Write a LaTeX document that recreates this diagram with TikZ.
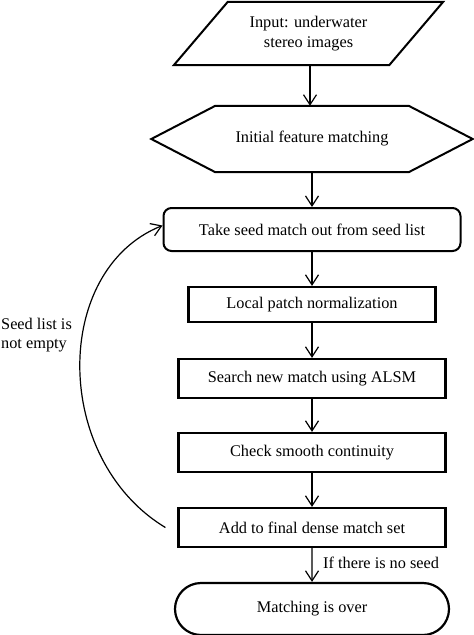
\documentclass[tikz,border=0pt]{standalone}
\usepackage{fontspec}
\setmainfont{Liberation Serif}
\usetikzlibrary{arrows.meta, shapes.misc}

\begin{document}
\begin{tikzpicture}[x=1bp, y=-1bp,
		font=\fontsize{16.3bp}{19.5bp}\selectfont,
		box/.style={rectangle, draw=black, line width=2.2bp, inner sep=0pt, fill=white},
		outline/.style={line width=2bp, line join=miter},
		arr/.style={-{Straight Barb[length=10bp, width=13bp]}, line width=1.2bp}]
		\useasboundingbox (0,0) rectangle (474,635);
		%-------------------------------------------------------------------------------
		% dense matching flow
		%-------------------------------------------------------------------------------
		% core nodes
		\node[rectangle, inner sep=0pt, minimum height=63bp, minimum width=269bp, align=center] (input) 
			at (308.5,33.5) {Input: underwater\\stereo images};
		\draw[outline] (input.south west) -- ([xshift=54bp]input.north west) 
			-- (input.north east) -- ([xshift=-54bp]input.south east) -- cycle;
		\node[rectangle, inner sep=0pt, minimum height=66bp, minimum width=321bp] (init) 
			at (312,139) {Initial feature matching};
		\draw[outline] (init.west) -- ([xshift=64bp]init.north west) 
			-- ([xshift=-64bp]init.north east) -- (init.east) 
			-- ([xshift=-64bp]init.south east) -- ([xshift=64bp]init.south west) -- cycle;
		\node[box, rounded corners=8bp, line width=2bp, minimum width=297bp, minimum height=43bp] (take) 
			at (312,229.5) {Take seed match out from seed list};
		\node[box, minimum width=247bp, minimum height=35bp] (norm) 
			at (312,304.5) {Local patch normalization};
		\node[box, minimum width=267bp, minimum height=39bp] (alsm) 
			at (312,378.5) {Search new match using ALSM};
		\node[box, minimum width=267bp, minimum height=39bp] (smooth) 
			at (312,452.5) {Check smooth continuity};
		\node[box, minimum width=267bp, minimum height=39bp] (add) 
			at (312,527.5) {Add to final dense match set};
		\node[rounded rectangle, draw=black, line width=2.2bp, inner sep=0pt, minimum width=274bp, 
			minimum height=52bp] (over) 
			at (312,609) {Matching is over};
		% forward
		\draw[arr] ([xshift=1.5bp]input.south) -- ([xshift=1.5bp]input.south |- init.north);
		\draw[arr] (init) -- (take);
		\draw[arr] (take) -- (norm);
		\draw[arr] (norm) -- (alsm);
		\draw[arr] (alsm) -- (smooth);
		\draw[arr] (smooth) -- (add);
		\draw[arr] (add) -- (over);
		% loop back
		\draw[arr] ([xshift=-12bp]add.west) .. controls (52,459) and (52,270) .. ([yshift=4bp]take.west);
		% labels
		\node[anchor=west, inner sep=0pt] (noseed) at (323,563) {If there is no seed};
		\node[anchor=west, inner sep=0pt, align=left] (notempty) at (1,335) {Seed list is\\not empty};
\end{tikzpicture}
\end{document}
